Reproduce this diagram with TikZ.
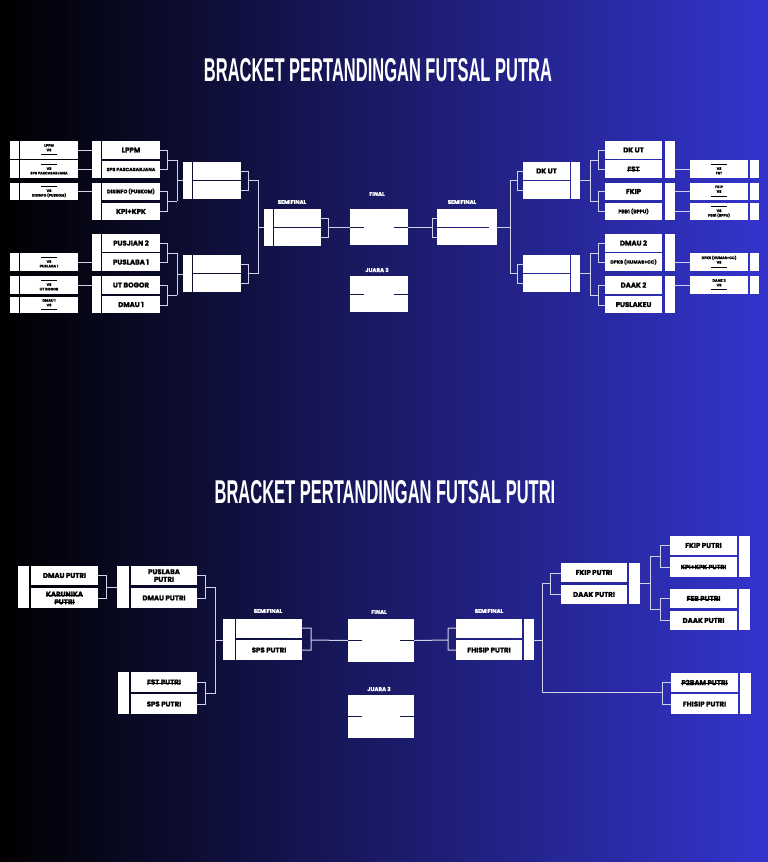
\documentclass[tikz,border=0pt]{standalone}
\usepackage{fontspec}
\setmainfont{Poppins}[BoldFeatures={FakeBold=1.6}]
\newfontfamily\titlefont[FakeStretch=0.5]{Liberation Sans}
\newcommand\strk{\rule[1.2pt]{16pt}{0.5pt}}
\newcommand\sout[1]{\setbox0=\hbox{#1}\rlap{\rule[0.35ex]{\wd0}{0.5pt}}\box0}
\definecolor{bgR}{RGB}{52,52,206}
\definecolor{ink}{RGB}{20,20,70}
\tikzset{
  box/.style={fill=white,draw=none,inner sep=0pt,align=center,text=black,font=\bfseries\fontsize{7}{7.6}\selectfont},
  mini/.style={box,font=\bfseries\fontsize{3.6}{4.6}\selectfont},
  ln/.style={draw={rgb,255:red,210;green,210;blue,235},line width=1pt},
  lbl/.style={text=white,font=\bfseries\fontsize{5.5}{6}\selectfont},
  ttl/.style={text=white,font=\titlefont\bfseries\fontsize{33}{36}\selectfont}
}
% [style]{name}{x1}{y1}{x2}{y2}{text}
\newcommand\B[7][box]{\node[#1,minimum width={(#5-#3)*1pt},minimum height={(#6-#4)*1pt}] (#2) at ({(#3+#5)/2},{(#4+#6)/2}) {#7};}
\begin{document}
\begin{tikzpicture}[x=1pt,y=-1pt]
\shade[left color=black,right color=bgR] (0,0) rectangle (768,862);
\useasboundingbox (0,0) rectangle (768,862);
\node[ttl] (t1) at (378,70) {BRACKET PERTANDINGAN FUTSAL PUTRA};
\node[ttl] (t2) at (385,492) {BRACKET PERTANDINGAN FUTSAL PUTRI};
% ---------- PUTRA left round 1
\B[mini]{d1}{10}{141}{19}{159}{}\B[mini]{m1}{20}{141}{78}{159}{LPPM\\VS\\\strk}
\B[mini]{d2}{10}{160}{19}{178}{}\B[mini]{m2}{20}{160}{78}{178}{\strk\\VS\\SPS PASCASARJANA}
\B[mini]{d3}{10}{183}{19}{200}{}\B[mini]{m3}{20}{183}{78}{200}{\strk\\VS\\DISINFO (PUSKOM)}
\B[mini]{d4}{10}{253}{19}{271}{}\B[mini]{m4}{20}{253}{78}{271}{\strk\\VS\\PUSLABA 1}
\B[mini]{d5}{10}{276}{19}{294}{}\B[mini]{m5}{20}{276}{78}{294}{\strk\\VS\\UT BOGOR}
\B[mini]{d6}{10}{297}{19}{313}{}\B[mini]{m6}{20}{297}{78}{313}{DMAU 1\\VS\\\strk}
% round 2 left
\B[mini]{e1}{92}{141}{101}{178}{}\B[mini]{e2}{92}{183}{101}{220}{}
\B[mini]{e3}{92}{234}{101}{271}{}\B[mini]{e4}{92}{276}{101}{313}{}
\B{n1}{102}{141}{160}{159}{LPPM}
\B[box,font=\bfseries\fontsize{4.7}{5}\selectfont]{n2}{102}{161}{160}{178}{SPS PASCASARJANA}
\B[box,font=\bfseries\fontsize{5}{5}\selectfont]{n3}{102}{183}{160}{200}{DISINFO (PUSKOM)}
\B{n4}{102}{203}{160}{220}{KPI+KPK}
\B{n5}{102}{234}{160}{252}{PUSJIAN 2}
\B{n6}{102}{253}{160}{271}{PUSLABA 1}
\B{n7}{102}{276}{160}{294}{UT BOGOR}
\B{n8}{102}{296}{160}{313}{DMAU 1}
% QF left
\B[mini]{f1}{183}{162}{192}{199}{}\B{q1}{193}{162}{241}{180}{}\B{q2}{193}{181}{241}{199}{}
\B[mini]{f2}{183}{255}{192}{292}{}\B{q3}{193}{255}{241}{273}{}\B{q4}{193}{274}{241}{292}{}
% SF left
\node[lbl] (sfl) at (292,202) {SEMIFINAL};
\B[mini]{g1}{264}{209}{273}{246}{}\B{s1}{274}{209}{321}{227}{}\B{s2}{274}{228}{321}{246}{}
% final
\node[lbl] (fl) at (377,194) {FINAL};
\B{fin}{350}{209}{408}{245}{}
\node[lbl] (j3) at (377,270) {JUARA 3};
\B{jr}{350}{276}{408}{312}{}
\draw[ink,line width=1pt] (fin.west) -- ++(14,0) (fin.east) -- ++(-14,0);
\draw[ink,line width=1pt] (jr.west) -- ++(14,0) (jr.east) -- ++(-14,0);
% SF right
\node[lbl] (sfr) at (462,202) {SEMIFINAL};
\B{s3}{437}{209}{489}{227}{}\B{s4}{437}{228}{489}{245}{}\B[mini]{g2}{489}{209}{497}{245}{}
% QF right
\B{q5}{523}{162}{570}{180}{DK UT}\B{q6}{523}{181}{570}{199}{}\B[mini]{f3}{571}{162}{580}{199}{}
\B{q7}{523}{255}{570}{273}{}\B{q8}{523}{274}{570}{292}{}\B[mini]{f4}{571}{255}{580}{292}{}
% R2 right
\B{r1}{605}{141}{662}{159}{DK UT}
\B{r2}{605}{160}{662}{178}{\sout{FST}}
\B{r3}{605}{183}{662}{200}{FKIP}
\B[box,font=\bfseries\fontsize{5}{5}\selectfont]{r4}{605}{203}{662}{220}{PBB1 (BPPU)}
\B{r5}{605}{234}{662}{252}{DMAU 2}
\B[box,font=\bfseries\fontsize{4.8}{5}\selectfont]{r6}{605}{253}{662}{271}{DPKS (HUMAS+CC)}
\B{r7}{605}{276}{662}{294}{DAAK 2}
\B{r8}{605}{296}{662}{313}{PUSLAKEU}
\B[mini]{h1}{665}{141}{675}{178}{}\B[mini]{h2}{665}{183}{675}{220}{}
\B[mini]{h3}{665}{234}{675}{271}{}\B[mini]{h4}{665}{276}{675}{313}{}
% mini right
\B[mini]{k1}{690}{160}{748}{178}{\strk\\VS\\FST}\B[mini]{c1}{750}{160}{759}{178}{}
\B[mini]{k2}{690}{183}{748}{200}{FKIP\\VS\\\strk}\B[mini]{c2}{750}{183}{759}{200}{}
\B[mini]{k3}{690}{203}{748}{220}{\strk\\VS\\PBB1 (BPPU)}\B[mini]{c3}{750}{203}{759}{220}{}
\B[mini]{k4}{690}{253}{748}{271}{DPKS (HUMAS+CC)\\VS\\\strk}\B[mini]{c4}{750}{253}{759}{271}{}
\B[mini]{k5}{690}{276}{748}{294}{DAAK 3\\VS\\\strk}\B[mini]{c5}{750}{276}{759}{294}{}
% ---- PUTRA lines
\draw[ln] (78,150)--(92,150) (78,169)--(92,169) (78,191)--(92,191) (78,262)--(92,262) (78,285)--(92,285);
\draw[ln] (160,150)-|(167,169)--(160,169) (160,191)-|(167,211)--(160,211) (167,160)-|(177,201) (167,201)--(177,201) (177,180)--(183,180);
\draw[ln] (160,243)-|(167,262)--(160,262) (160,285)-|(167,305)--(160,305) (167,253)-|(177,295) (167,295)--(177,295) (177,274)--(183,274);
\draw[ln] (241,171)-|(248,190)--(241,190) (241,264)-|(248,283)--(241,283) (248,180)-|(258,273.5) (248,273.5)--(258,273.5) (258,227)--(264,227);
\draw[ln] (321,218)-|(328,237)--(321,237) (328,227)--(fin.west);
\draw[ln] (fin.east)--(432,227) (437,218)-|(432,237)--(437,237);
\draw[ln] (497,227)--(510,227) (510,180)--(510,273.5) (517,180)--(510,180) (517,273.5)--(510,273.5)
  (523,171)-|(517,190)--(523,190) (523,264)-|(517,283)--(523,283);
\draw[ln] (580,180)--(590,180) (580,273)--(590,273) (590,160)--(590,201) (590,253)--(590,295)
  (590,160)--(598,160) (590,201)--(598,201) (590,253)--(598,253) (590,295)--(598,295)
  (605,150)-|(598,169)--(605,169) (605,191)-|(598,211)--(605,211) (605,243)-|(598,262)--(605,262) (605,285)-|(598,305)--(605,305);
\draw[ln] (675,169)--(690,169) (675,191)--(690,191) (675,211)--(690,211) (675,262)--(690,262) (675,285)--(690,285);
% ---------- PUTRI
\B[mini]{pd1}{18}{566}{29}{608}{}
\B{p1}{31}{566}{98}{585}{DMAU PUTRI}\B{p2}{31}{588}{98}{608}{\sout{KARUNIKA}\\\sout{PUTRI}}
\B[mini]{pd2}{117}{566}{129}{608}{}
\B{p3}{131}{566}{197}{585}{PUSLABA\\PUTRI}\B{p4}{131}{588}{197}{608}{DMAU PUTRI}
\B[mini]{pd3}{118}{672}{129}{714}{}
\B{p5}{131}{672}{197}{692}{\sout{FST PUTRI}}\B{p6}{131}{694}{197}{714}{SPS PUTRI}
\node[lbl] (psl) at (268,611) {SEMIFINAL};
\B[mini]{pd4}{223}{619}{235}{660}{}
\B{p7}{236}{619}{302}{638}{}\B{p8}{236}{640}{302}{660}{SPS PUTRI}
\node[lbl] (pfl) at (379,612) {FINAL};
\B{pfin}{348}{619}{414}{662}{}
\node[lbl] (pj3) at (379,689) {JUARA 3};
\B{pjr}{348}{695}{414}{738}{}
\draw[ink,line width=1pt] (pfin.west) -- ++(14,0) (pfin.east) -- ++(-14,0);
\draw[ink,line width=1pt] (pjr.west) -- ++(14,0) (pjr.east) -- ++(-14,0);
\node[lbl] (psr) at (489,611) {SEMIFINAL};
\B{p9}{456}{619}{522}{638}{}\B{p10}{456}{640}{522}{660}{FHISIP PUTRI}\B[mini]{pd5}{524}{619}{534}{660}{}
\B{p11}{561}{563}{627}{582}{FKIP PUTRI}\B{p12}{561}{585}{627}{604}{DAAK PUTRI}\B[mini]{pd6}{629}{563}{640}{604}{}
\B{p13}{670}{536}{737}{555}{FKIP PUTRI}\B[box,font=\bfseries\fontsize{6.2}{7}\selectfont]{p14}{670}{557}{737}{577}{\sout{KPI+KPK PUTRI}}\B[mini]{pd7}{739}{536}{750}{577}{}
\B{p15}{670}{589}{737}{608}{\sout{FEB PUTRI}}\B{p16}{670}{611}{737}{630}{DAAK PUTRI}\B[mini]{pd8}{739}{589}{750}{630}{}
\B{p17}{671}{673}{738}{692}{\sout{P2BAM PUTRI}}\B{p18}{671}{694}{738}{714}{FHISIP PUTRI}\B[mini]{pd9}{740}{673}{751}{714}{}
% putri lines
\draw[ln] (98,575)-|(106,598)--(98,598) (106,587)--(117,587);
\draw[ln] (197,575)-|(205,598)--(197,598) (197,682)-|(205,704)--(197,704) (205,587)-|(215,693)--(205,693) (215,640)--(223,640);
\draw[ln] (302,628)-|(311,650)--(302,650) (311,640)--(pfin.west);
\draw[ln] (pfin.east)--(448,640) (456,628)-|(448,650)--(456,650);
\draw[ln] (534,640)--(542,640) (542,583)--(542,692) (542,583)--(550,583) (561,573)-|(550,594)--(561,594)
  (542,692)--(662,692) (671,682)-|(662,704)--(671,704);
\draw[ln] (640,583)--(650,583) (650,556)--(650,609) (650,556)--(660,556) (650,609)--(660,609)
  (670,545)-|(660,567)--(670,567) (670,598)-|(660,620)--(670,620);
\end{tikzpicture}
\end{document}
